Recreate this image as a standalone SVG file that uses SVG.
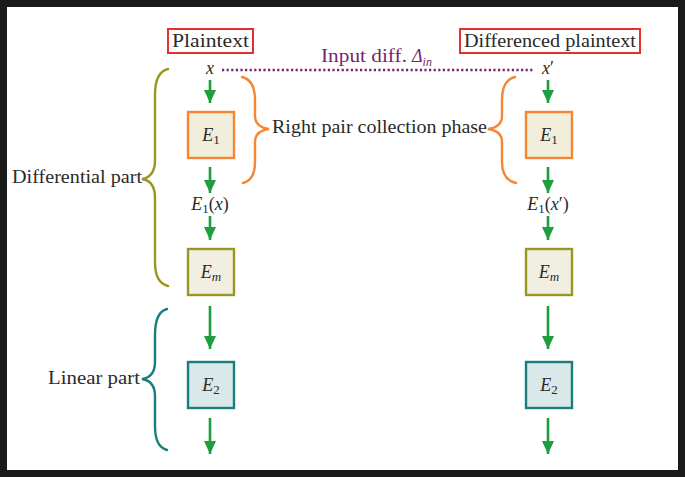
<svg xmlns="http://www.w3.org/2000/svg" width="685" height="477" viewBox="0 0 685 477">
<style>
text{font-family:"Liberation Serif","DejaVu Serif",serif;font-size:18px;fill:#2a2a2a}
.it{font-style:italic}
.lbl{stroke:#e5312b;stroke-width:2;fill:#fff}
.arr{stroke:#1e9e3e;stroke-width:2.6;fill:none}
.br{fill:none;stroke-width:2.4;stroke-linecap:round}
.e1{fill:#f1eedc;stroke:#f58634;stroke-width:2.4}
.em{fill:#f0efe0;stroke:#9a9622;stroke-width:2.4}
.e2{fill:#d9e8e8;stroke:#1a7f7c;stroke-width:2.4}
</style>
<defs>
<marker id="ah" markerUnits="userSpaceOnUse" markerWidth="14" markerHeight="14" refX="13" refY="7" orient="auto" viewBox="0 0 14 14">
<path d="M0,1 L13,7 L0,13 Z" fill="#1e9e3e"/>
</marker>
</defs>
<rect x="0" y="0" width="685" height="477" fill="#1a1a1a"/>
<rect x="7" y="7" width="671" height="463" fill="#fff"/>

<g id="labels">
<g id="plaintext"><rect class="lbl" x="168" y="29" width="85" height="24"/><text x="172" y="47" textLength="77" lengthAdjust="spacingAndGlyphs">Plaintext</text></g>
<g id="diffplaintext"><rect class="lbl" x="460" y="29" width="180" height="24"/><text x="464" y="47" textLength="172" lengthAdjust="spacingAndGlyphs">Differenced plaintext</text></g>
<g id="inputdiff"><text x="321" y="62" style="fill:#7a1f6e"><tspan textLength="86" lengthAdjust="spacingAndGlyphs">Input diff.</tspan><tspan class="it" dx="5">Δ</tspan><tspan class="it" font-size="12" dy="4">in</tspan></text></g>
<g id="x"><text class="it" x="210" y="74" text-anchor="middle">x</text></g>
<g id="xp"><text x="548" y="74" text-anchor="middle"><tspan class="it">x</tspan>′</text></g>
<g id="e1x"><text x="210" y="210" text-anchor="middle"><tspan class="it">E</tspan><tspan font-size="13" dy="3">1</tspan><tspan dy="-3">(</tspan><tspan class="it">x</tspan>)</text></g>
<g id="e1xp"><text x="548" y="210" text-anchor="middle"><tspan class="it">E</tspan><tspan font-size="13" dy="3">1</tspan><tspan dy="-3">(</tspan><tspan class="it">x</tspan>′)</text></g>
<g id="difflabel"><text x="12" y="183" textLength="130" lengthAdjust="spacingAndGlyphs">Differential part</text></g>
<g id="rightpair"><text x="272" y="133" textLength="215" lengthAdjust="spacingAndGlyphs">Right pair collection phase</text></g>
<g id="linearlabel"><text x="48" y="384" textLength="92" lengthAdjust="spacingAndGlyphs">Linear part</text></g>
</g>

<g id="E1L"><rect class="e1" x="188" y="112" width="46" height="46"/><text x="211" y="141" text-anchor="middle"><tspan class="it">E</tspan><tspan font-size="13" dy="3">1</tspan></text></g>
<g id="EmL"><rect class="em" x="188" y="249" width="46" height="46"/><text x="211" y="278" text-anchor="middle"><tspan class="it">E</tspan><tspan class="it" font-size="13" dy="3">m</tspan></text></g>
<g id="E2L"><rect class="e2" x="188" y="362" width="46" height="46"/><text x="211" y="391" text-anchor="middle"><tspan class="it">E</tspan><tspan font-size="13" dy="3">2</tspan></text></g>
<g id="E1R"><rect class="e1" x="526" y="112" width="46" height="46"/><text x="549" y="141" text-anchor="middle"><tspan class="it">E</tspan><tspan font-size="13" dy="3">1</tspan></text></g>
<g id="EmR"><rect class="em" x="526" y="249" width="46" height="46"/><text x="549" y="278" text-anchor="middle"><tspan class="it">E</tspan><tspan class="it" font-size="13" dy="3">m</tspan></text></g>
<g id="E2R"><rect class="e2" x="526" y="362" width="46" height="46"/><text x="549" y="391" text-anchor="middle"><tspan class="it">E</tspan><tspan font-size="13" dy="3">2</tspan></text></g>

<g id="braces">
<path class="br" stroke="#9a9622" d="M168,69 Q155,72 155,95 L155,160 Q155,177 142,179 Q155,181 155,198 L155,262 Q155,283 168,286"/>
<path class="br" stroke="#f58634" d="M242,77 Q255,80 255,100 L255,116 Q255,127 269,129 Q255,131 255,142 L255,162 Q255,180 243,183"/>
<path class="br" stroke="#f58634" d="M515,77 Q502,80 502,100 L502,116 Q502,127 488,129 Q502,131 502,142 L502,162 Q502,180 516,183"/>
<path class="br" stroke="#1a7f7c" d="M167,309 Q155,312 155,335 L155,362 Q155,377 142,379 Q155,381 155,396 L155,426 Q155,447 167,450"/>
</g>

<g id="connectors">
<line x1="222" y1="70" x2="534" y2="70" stroke="#7a1f6e" stroke-width="2.5" stroke-dasharray="2.2,2.4"/>
<line class="arr" x1="210" y1="80" x2="210" y2="103" marker-end="url(#ah)"/>
<line class="arr" x1="210" y1="167" x2="210" y2="193" marker-end="url(#ah)"/>
<line class="arr" x1="210" y1="216" x2="210" y2="240" marker-end="url(#ah)"/>
<line class="arr" x1="210" y1="306" x2="210" y2="349" marker-end="url(#ah)"/>
<line class="arr" x1="210" y1="418" x2="210" y2="454" marker-end="url(#ah)"/>
<line class="arr" x1="548" y1="80" x2="548" y2="103" marker-end="url(#ah)"/>
<line class="arr" x1="548" y1="167" x2="548" y2="193" marker-end="url(#ah)"/>
<line class="arr" x1="548" y1="216" x2="548" y2="240" marker-end="url(#ah)"/>
<line class="arr" x1="548" y1="306" x2="548" y2="349" marker-end="url(#ah)"/>
<line class="arr" x1="548" y1="418" x2="548" y2="454" marker-end="url(#ah)"/>
</g>
</svg>
